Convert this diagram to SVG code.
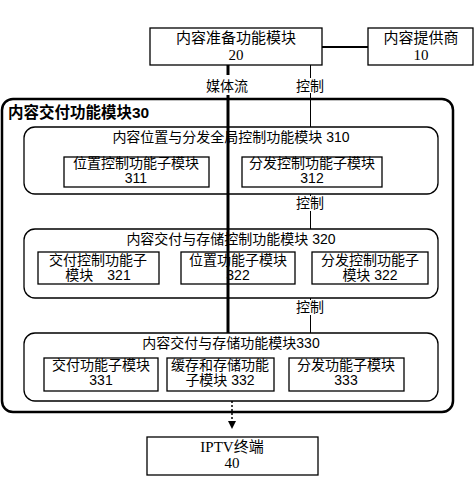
<svg xmlns="http://www.w3.org/2000/svg" width="474" height="479" viewBox="0 0 474 479">
<style>
.box{fill:#fff;stroke:#000;stroke-width:1.3}
.rbox{fill:none;stroke:#000;stroke-width:1.3}
.t{font-family:"Liberation Sans","Noto Sans CJK SC",sans-serif;font-size:14px;fill:#000;text-anchor:middle}
.s{font-family:"Liberation Serif","Noto Sans CJK SC",serif;font-size:15px;fill:#000;text-anchor:middle}
.ctl{stroke:#000;stroke-width:1;fill:none}
</style>
<defs>
<marker id="arr" markerWidth="10" markerHeight="10" refX="8" refY="4" orient="auto" markerUnits="userSpaceOnUse">
<path d="M0,0 L8,4 L0,8 Z" fill="#000"/>
</marker>
</defs>
<g id="n30">
<rect x="2" y="99" width="451" height="313" rx="11" fill="none" stroke="#000" stroke-width="2.5"/>
<text x="8" y="118" font-family="Liberation Sans,'Noto Sans CJK SC',sans-serif" font-size="15.5" font-weight="bold">内容交付功能模块30</text>
</g>
<g id="n20">
<rect class="box" x="150" y="28" width="172" height="37"/>
<text class="s" x="236" y="43">内容准备功能模块</text>
<text class="s" x="236" y="60">20</text>
</g>
<g id="n10">
<rect class="box" x="368" y="28" width="105" height="37"/>
<text class="s" x="421" y="43">内容提供商</text>
<text class="s" x="421" y="60">10</text>
</g>
<g id="n310">
<rect class="rbox" x="24" y="127" width="414" height="67" rx="11"/>
<text class="t" x="231" y="142">内容位置与分发全局控制功能模块 310</text>
</g>
<g id="n311">
<rect class="box" x="64" y="157" width="145" height="30"/>
<text class="t" x="136" y="168">位置控制功能子模块</text>
<text class="t" x="136" y="183">311</text>
</g>
<g id="n312">
<rect class="box" x="242" y="157" width="140" height="30"/>
<text class="t" x="312" y="168">分发控制功能子模块</text>
<text class="t" x="312" y="183">312</text>
</g>
<g id="n320">
<rect class="rbox" x="24" y="229" width="414" height="69" rx="11"/>
<text class="t" x="231" y="244">内容交付与存储控制功能模块 320</text>
</g>
<g id="n321">
<rect class="box" x="38" y="252" width="121" height="32"/>
<text class="t" x="98" y="265">交付控制功能子</text>
<text class="t" x="98" y="280">模块　321</text>
</g>
<g id="n322a">
<rect class="box" x="181" y="252" width="114" height="32"/>
<text class="t" x="238" y="265">位置功能子模块</text>
<text class="t" x="238" y="280">322</text>
</g>
<g id="n322b">
<rect class="box" x="312" y="252" width="116" height="32"/>
<text class="t" x="370" y="265">分发控制功能子</text>
<text class="t" x="370" y="280">模块 322</text>
</g>
<g id="n330">
<rect class="rbox" x="24" y="333" width="414" height="68" rx="11"/>
<text class="t" x="231" y="348">内容交付与存储功能模块330</text>
</g>
<g id="n331">
<rect class="box" x="44" y="358" width="114" height="33"/>
<text class="t" x="101" y="370">交付功能子模块</text>
<text class="t" x="101" y="385">331</text>
</g>
<g id="n332">
<rect class="box" x="167" y="358" width="107" height="33"/>
<text class="t" x="220" y="370">缓存和存储功能</text>
<text class="t" x="220" y="385">子模块 332</text>
</g>
<g id="n333">
<rect class="box" x="289" y="358" width="115" height="33"/>
<text class="t" x="346" y="370">分发功能子模块</text>
<text class="t" x="346" y="385">333</text>
</g>
<g id="n40">
<rect class="box" x="147" y="437" width="171" height="38"/>
<text class="s" x="232" y="452">IPTV终端</text>
<text class="s" x="232" y="468">40</text>
</g>
<g id="connectors">
<line x1="322" y1="47" x2="368" y2="47" stroke="#000" stroke-width="2"/>
<line x1="228" y1="65" x2="228" y2="75" stroke="#000" stroke-width="3"/>
<line x1="228" y1="95" x2="228" y2="333" stroke="#000" stroke-width="3"/>
<text class="t" x="227" y="91">媒体流</text>
<line class="ctl" x1="310.5" y1="65" x2="310.5" y2="78"/>
<line class="ctl" x1="310.5" y1="93" x2="310.5" y2="127"/>
<text class="t" x="310" y="91" font-size="13">控制</text>
<line class="ctl" x1="310.5" y1="194" x2="310.5" y2="196"/>
<line class="ctl" x1="310.5" y1="211" x2="310.5" y2="229"/>
<text class="t" x="310" y="208" font-size="13">控制</text>
<line class="ctl" x1="310.5" y1="298" x2="310.5" y2="300"/>
<line class="ctl" x1="310.5" y1="315" x2="310.5" y2="333"/>
<text class="t" x="310" y="312" font-size="13">控制</text>
<line x1="232" y1="401" x2="232" y2="429" stroke="#000" stroke-width="1.5" stroke-dasharray="2,2" marker-end="url(#arr)"/>
</g>
</svg>
